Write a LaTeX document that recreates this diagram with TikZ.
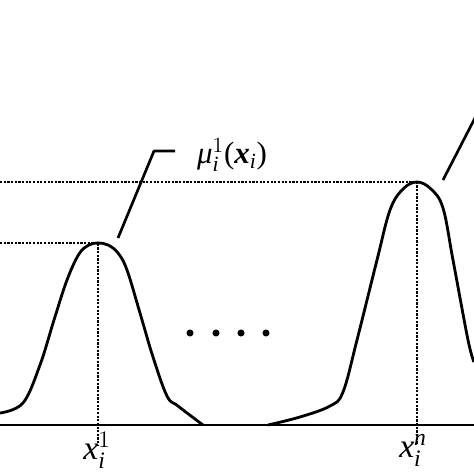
\RequirePackage{fix-cm}
\documentclass[tikz,border=0pt]{standalone}
\usepackage{amsmath,amssymb}
\usepackage{fontspec}
\setmainfont{Liberation Serif}
\usetikzlibrary{positioning,calc}

\begin{document}
\begin{tikzpicture}[x=0.025cm,y=-0.025cm,
    curve/.style={line width=2pt,line join=round},
    guide/.style={densely dotted,line width=1.6pt},
    lead/.style={line width=1.9pt},
    dot/.style={circle,fill=black,inner sep=0pt,minimum size=5pt},
    every node/.style={font=\fontsize{22}{26}\selectfont}]
  \useasboundingbox (0,0) rectangle (474,474);
  \coordinate (O) at (0,425);
  \coordinate (E) at (474,425);
  \coordinate (P1) at (98,243);
  \coordinate (Pn) at (417,182);
  \coordinate (A1) at (0,243);
  \coordinate (An) at (0,182);
  \coordinate (B1) at (98,445);
  \coordinate (Bn) at (417,445);
  % axis
  \draw[curve] (O) -- (E);
  % membership functions
  \draw[curve] plot[smooth,tension=0.6] coordinates {(0,413) (23,403) (40,365)
    (54,320) (67,280) (79,254) (89,245) (98,243) (108,245) (118,253)
    (127,270) (140,313) (153,357) (167,396) (178,406) (203,425)};
  \draw[curve] plot[smooth,tension=0.6] coordinates {(268,425) (300,417)
    (330,406) (343,392) (357,340) (377,260) (390,210) (403,189) (417,182)
    (431,189) (443,208) (453,260) (468,340) (474,362)};
  % guides
  \draw[guide] (A1) -- (P1) -- (B1);
  \draw[guide] (An) -- (Pn) -- (Bn);
  % dots
  \foreach \x in {190,216,241,266}
    \node[dot] (d\x) at (\x,333) {};
  % labels
  \node (L1) at (232,155)
    {$\textit{μ}_{\textit{i}}^{1}\text{(}\textbf{\textit{x}}_{\textit{i}}\text{)}$};
  \coordinate (M1) at (118,238);
  \coordinate (K1) at (154,151);
  \coordinate (H1) at (175,151);
  \draw[lead,line join=round] (M1) -- (K1) -- (H1);
  \coordinate (Mn) at (443,180);
  \coordinate (Kn) at (476,116);
  \draw[lead] (Mn) -- (Kn);
  \node[font=\fontsize{24}{28}\selectfont] (X1) at (97,450)
    {$\textit{x}_{\textit{i}}^{1}$};
  \node[font=\fontsize{24}{28}\selectfont] (Xn) at (413,450)
    {$\textit{x}_{\textit{i}}^{\textit{n}}$};
\end{tikzpicture}
\end{document}
